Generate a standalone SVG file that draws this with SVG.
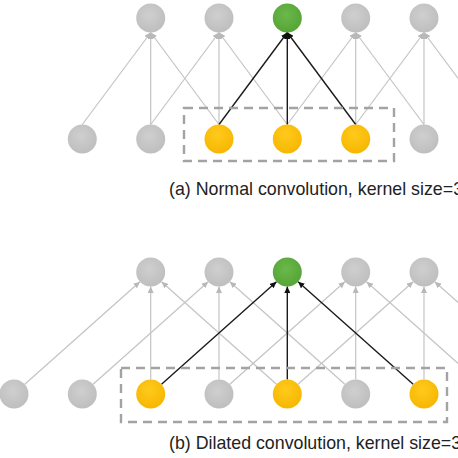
<svg xmlns="http://www.w3.org/2000/svg" width="458" height="458" viewBox="0 0 458 458">
<style>
.bg{fill:#ffffff}
.g{fill:url(#gGray)}
.y{fill:url(#gYel)}
.gr{fill:url(#gGreen)}
.e{stroke:#c4c4c4;stroke-width:1.2;fill:none;marker-end:url(#aG)}
.k{stroke:#1a1a1a;stroke-width:1.4;fill:none;marker-end:url(#aK)}
.box{fill:none;stroke:#a3a3a3;stroke-width:2.4;stroke-dasharray:9 6}
.cap{font-family:"Liberation Sans",Arial,sans-serif;font-size:17.8px;fill:#222}
</style>
<defs>
<radialGradient id="gGray" cx="0.45" cy="0.4" r="0.65"><stop offset="0" stop-color="#cfcfcf"/><stop offset="1" stop-color="#bdbdbd"/></radialGradient>
<radialGradient id="gYel" cx="0.45" cy="0.35" r="0.7"><stop offset="0" stop-color="#ffca1c"/><stop offset="1" stop-color="#f6b500"/></radialGradient>
<radialGradient id="gGreen" cx="0.45" cy="0.4" r="0.65"><stop offset="0" stop-color="#6cb84a"/><stop offset="1" stop-color="#54a336"/></radialGradient>
<marker id="aG" markerUnits="userSpaceOnUse" markerWidth="7" markerHeight="6" refX="6.5" refY="3" orient="auto"><path d="M0,0 L6.5,3 L0,6 z" fill="#b8b8b8"/></marker>
<marker id="aK" markerUnits="userSpaceOnUse" markerWidth="7" markerHeight="6" refX="6.5" refY="3" orient="auto"><path d="M0,0 L6.5,3 L0,6 z" fill="#111"/></marker>
</defs>
<rect class="bg" x="0" y="0" width="458" height="458"/>

<g id="connectors-a">
<line class="e" x1="82.3" y1="124.5" x2="150.7" y2="32.5"/>
<line class="e" x1="150.7" y1="124.5" x2="150.7" y2="32.5"/>
<line class="e" x1="219" y1="124.5" x2="150.7" y2="32.5"/>
<line class="e" x1="150.7" y1="124.5" x2="219" y2="32.5"/>
<line class="e" x1="219" y1="124.5" x2="219" y2="32.5"/>
<line class="e" x1="287.3" y1="124.5" x2="219" y2="32.5"/>
<line class="e" x1="287.3" y1="124.5" x2="355.7" y2="32.5"/>
<line class="e" x1="355.7" y1="124.5" x2="355.7" y2="32.5"/>
<line class="e" x1="424" y1="124.5" x2="355.7" y2="32.5"/>
<line class="e" x1="355.7" y1="124.5" x2="424" y2="32.5"/>
<line class="e" x1="424" y1="124.5" x2="424" y2="32.5"/>
<line class="e" x1="492.3" y1="124.5" x2="424" y2="32.5"/>
<line class="k" x1="219" y1="124.5" x2="287.3" y2="32.5"/>
<line class="k" x1="287.3" y1="124.5" x2="287.3" y2="32.5"/>
<line class="k" x1="355.7" y1="124.5" x2="287.3" y2="32.5"/>
</g>

<g id="box-a"><rect class="box" x="184" y="108" width="210" height="53"/></g>

<g id="a-top-1"><circle class="g" cx="150.7" cy="18" r="14.5"/></g>
<g id="a-top-2"><circle class="g" cx="219" cy="18" r="14.5"/></g>
<g id="a-top-3"><circle class="gr" cx="287.3" cy="18" r="14.5"/></g>
<g id="a-top-4"><circle class="g" cx="355.7" cy="18" r="14.5"/></g>
<g id="a-top-5"><circle class="g" cx="424" cy="18" r="14.5"/></g>
<g id="a-bot-1"><circle class="g" cx="82.3" cy="139" r="14.5"/></g>
<g id="a-bot-2"><circle class="g" cx="150.7" cy="139" r="14.5"/></g>
<g id="a-bot-3"><circle class="y" cx="219" cy="139" r="14.5"/></g>
<g id="a-bot-4"><circle class="y" cx="287.3" cy="139" r="14.5"/></g>
<g id="a-bot-5"><circle class="y" cx="355.7" cy="139" r="14.5"/></g>
<g id="a-bot-6"><circle class="g" cx="424" cy="139" r="14.5"/></g>

<g id="caption-a"><text class="cap" x="169" y="195">(a) Normal convolution, kernel size=3</text></g>

<g id="connectors-b">
<line class="e" x1="24.8" y1="384.3" x2="139.9" y2="281.7"/>
<line class="e" x1="150.7" y1="379.5" x2="150.7" y2="286.5"/>
<line class="e" x1="276.5" y1="384.3" x2="161.5" y2="281.7"/>
<line class="e" x1="93.1" y1="384.3" x2="208.2" y2="281.7"/>
<line class="e" x1="219" y1="379.5" x2="219" y2="286.5"/>
<line class="e" x1="344.9" y1="384.3" x2="229.8" y2="281.7"/>
<line class="e" x1="229.8" y1="384.3" x2="344.9" y2="281.7"/>
<line class="e" x1="355.7" y1="379.5" x2="355.7" y2="286.5"/>
<line class="e" x1="481.5" y1="384.3" x2="366.5" y2="281.7"/>
<line class="e" x1="298.1" y1="384.3" x2="413.2" y2="281.7"/>
<line class="e" x1="424" y1="379.5" x2="424" y2="286.5"/>
<line class="e" x1="549.9" y1="384.3" x2="434.8" y2="281.7"/>
<line class="k" x1="161.5" y1="384.3" x2="276.5" y2="281.7"/>
<line class="k" x1="287.3" y1="379.5" x2="287.3" y2="286.5"/>
<line class="k" x1="413.2" y1="384.3" x2="298.1" y2="281.7"/>
</g>

<g id="box-b"><rect class="box" x="121" y="368" width="326" height="54"/></g>

<g id="b-top-1"><circle class="g" cx="150.7" cy="272" r="14.5"/></g>
<g id="b-top-2"><circle class="g" cx="219" cy="272" r="14.5"/></g>
<g id="b-top-3"><circle class="gr" cx="287.3" cy="272" r="14.5"/></g>
<g id="b-top-4"><circle class="g" cx="355.7" cy="272" r="14.5"/></g>
<g id="b-top-5"><circle class="g" cx="424" cy="272" r="14.5"/></g>
<g id="b-bot-1"><circle class="g" cx="14" cy="394" r="14.5"/></g>
<g id="b-bot-2"><circle class="g" cx="82.3" cy="394" r="14.5"/></g>
<g id="b-bot-3"><circle class="y" cx="150.7" cy="394" r="14.5"/></g>
<g id="b-bot-4"><circle class="g" cx="219" cy="394" r="14.5"/></g>
<g id="b-bot-5"><circle class="y" cx="287.3" cy="394" r="14.5"/></g>
<g id="b-bot-6"><circle class="g" cx="355.7" cy="394" r="14.5"/></g>
<g id="b-bot-7"><circle class="y" cx="424" cy="394" r="14.5"/></g>

<g id="caption-b"><text class="cap" x="169" y="449">(b) Dilated convolution, kernel size=3</text></g>
</svg>
